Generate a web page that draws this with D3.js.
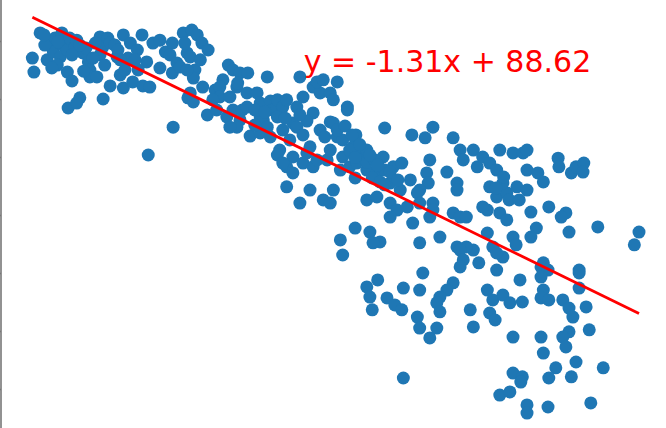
<!DOCTYPE html>
<html lang="en">
<head>
    <meta charset="UTF-8">
    <title>Latitude vs Max Temperature</title>
    <script src="https://d3js.org/d3.v7.min.js"></script>
    <style>
        body {
            margin: 0;
            overflow: hidden;
            background: #fff;
        }
        .dot {
            fill: #1f77b4;
        }
        .fit {
            stroke: red;
            stroke-width: 2.8px;
            fill: none;
        }
        .axis path, .axis line {
            stroke: #777;
            stroke-width: 1.6px;
        }
        .eq {
            font-family: "DejaVu Sans", sans-serif;
            font-size: 30px;
            fill: red;
        }
    </style>
</head>
<body>

<script>
    // [latitude, max temp] pairs
    const latTempA = [
        [1.3, 82.8], [0.3, 74.1], [0.5, 69.3], [2.2, 73.5], [2.6, 79.3], [3.2, 81.0], [3.0, 76.2], [4.1, 82.8],
        [4.2, 78.6], [3.9, 74.5], [4.8, 76.9], [5.1, 81.0], [5.8, 77.9], [4.8, 69.3], [5.4, 66.2], [6.4, 60.4],
        [4.9, 56.9], [6.0, 58.6], [6.0, 80.3], [6.8, 75.9], [7.5, 72.8], [7.7, 70.0], [7.7, 67.6], [7.2, 77.6],
        [9.0, 81.4], [9.3, 77.6], [9.0, 75.2], [10.0, 81.0], [10.3, 79.3], [8.6, 67.6], [10.3, 64.5], [9.4, 60.0],
        [11.2, 74.5], [11.6, 68.3], [12.0, 82.1], [12.9, 79.3], [12.0, 63.8], [13.2, 65.9], [14.4, 82.1], [15.0, 72.8],
        [14.5, 64.5], [15.4, 64.1], [15.8, 79.3], [13.8, 76.9], [16.7, 70.7], [17.4, 76.2], [18.3, 79.3], [18.9, 72.4],
        [18.3, 69.0], [19.7, 82.8], [20.8, 83.8], [21.5, 82.1], [22.1, 79.3], [22.9, 76.9], [20.2, 75.9], [21.2, 70.0],
        [21.0, 67.2], [22.2, 64.1], [20.3, 60.4], [21.0, 59.0], [22.8, 54.5], [23.8, 63.1], [18.4, 50.3], [15.2, 40.7],
        [19.3, 71.0], [20.6, 74.5], [1.9, 78.6], [3.6, 79.7], [5.4, 75.2], [6.4, 78.6], [8.4, 79.3], [10.9, 78.6],
        [12.6, 74.1], [13.9, 70.0], [9.6, 71.7], [8.1, 74.1], [11.3, 76.9], [16.7, 80.3], [18.0, 75.2], [19.9, 79.3],
        [21.9, 73.5], [1.8, 82.1], [3.5, 71.7], [12.2, 70.0], [13.5, 73.5], [11.6, 73.5], [6.9, 69.6], [2.8, 70.7]
    ];

    const latTempB = [
        [25.5, 71.7], [26.1, 70.0], [27.0, 69.0], [28.0, 69.0], [24.8, 66.6], [24.4, 64.1], [26.6, 64.1], [24.4, 60.7],
        [25.7, 60.7], [26.7, 65.5], [27.9, 62.1], [29.2, 62.1], [30.5, 67.6], [34.7, 67.6], [23.5, 59.7], [24.0, 56.2],
        [25.3, 53.8], [26.1, 56.2], [27.3, 56.2], [27.9, 57.2], [27.0, 52.8], [26.6, 50.3], [25.7, 50.3], [28.3, 47.2],
        [29.6, 53.8], [29.6, 58.6], [30.9, 59.3], [31.2, 56.2], [31.8, 59.7], [32.5, 57.2], [33.0, 59.7], [34.3, 57.2],
        [35.1, 60.7], [36.4, 64.1], [37.3, 62.1], [38.6, 62.1], [36.4, 55.2], [35.6, 52.4], [33.8, 51.7], [31.8, 53.8],
        [30.0, 52.8], [30.5, 50.3], [29.6, 48.3], [32.5, 49.3], [34.3, 50.3], [35.1, 47.6], [37.3, 49.3], [30.9, 46.9],
        [33.4, 45.9], [32.1, 42.4], [31.8, 40.7], [33.8, 40.0], [35.6, 41.4], [36.0, 43.5], [33.0, 36.6], [32.5, 37.9],
        [35.1, 37.9], [33.8, 34.5], [36.4, 36.6], [36.9, 39.0], [38.2, 39.0], [33.0, 29.7], [36.0, 28.6], [34.7, 24.1],
        [37.7, 25.2], [37.9, 46.9], [39.5, 46.9], [40.2, 45.9], [36.9, 65.9], [37.7, 66.6], [39.5, 65.9], [39.0, 59.7],
        [40.8, 57.2], [38.6, 52.1], [38.6, 42.4], [41.5, 43.5], [42.8, 41.4], [40.2, 40.0], [39.9, 35.5], [43.3, 35.5],
        [20.2, 70.0], [20.6, 62.1], [28.9, 56.2], [30.2, 55.5], [32.8, 53.4], [34.7, 54.5], [28.9, 51.0]
    ];

    const latTempC = [
        [40.8, 56.2], [39.0, 51.7], [42.8, 39.0], [44.6, 34.5], [41.1, 36.6], [42.0, 37.9], [45.4, 40.0], [46.7, 36.6],
        [47.8, 37.9], [45.6, 50.0], [49.1, 47.6], [50.8, 46.6], [51.8, 50.3], [54.4, 46.6], [55.3, 42.4], [55.7, 39.0],
        [57.0, 42.4], [57.5, 36.6], [58.2, 40.0], [59.1, 37.9], [60.0, 35.5], [60.4, 42.4], [62.1, 41.4], [63.4, 41.4],
        [63.9, 35.5], [51.4, 39.0], [51.0, 34.5], [53.6, 34.8], [54.9, 31.0], [54.9, 28.6], [51.2, 31.0], [50.1, 28.6],
        [48.9, 32.1], [47.6, 28.6], [46.3, 31.0], [39.0, 28.6], [43.3, 25.2], [44.6, 26.2], [46.3, 24.1], [47.2, 21.7],
        [46.3, 19.3], [48.5, 22.8], [49.8, 27.6], [50.1, 24.1], [51.8, 24.1], [49.2, 17.2], [51.4, 19.3], [51.8, 21.7],
        [54.4, 20.7], [55.3, 19.3], [52.7, 12.4], [54.9, 9.0], [50.1, 10.4], [41.8, 15.5], [43.7, 14.1], [45.0, 10.7],
        [39.9, 11.4], [38.6, 24.1], [58.8, 21.7], [60.0, 26.2], [61.3, 27.6], [62.6, 29.7], [63.9, 28.6], [60.8, 31.0],
        [59.1, 29.7], [58.2, 22.8], [60.4, 20.7], [61.3, 18.3], [62.1, 12.4], [63.9, 42.4], [58.8, 13.8], [39.5, 49.3],
        [41.1, 42.4], [43.3, 38.3], [44.0, 32.8], [41.8, 32.8], [45.0, 31.4], [45.6, 35.5], [41.9, 47.6], [43.3, 42.4],
        [44.3, 39.0], [40.5, 50.7], [41.4, 47.6], [42.4, 44.3], [43.7, 40.7], [44.7, 37.2], [46.3, 34.8], [47.3, 32.1],
        [41.8, 39.8], [45.6, 30.4]
    ];

    const latTempD = [
        [60.9, 33.1], [65.3, 34.5], [66.0, 31.4], [61.6, 25.2], [64.4, 21.0], [66.7, 22.8], [67.9, 39.6], [68.0, 36.6],
        [69.6, 34.5], [70.2, 36.6], [71.2, 37.9], [71.1, 34.8], [68.9, 20.7], [68.3, 19.3], [65.1, 15.5], [64.4, 12.4],
        [69.3, 14.1], [73.0, 15.9], [78.3, 14.1], [77.7, 9.7], [62.5, 9.7], [59.5, 9.0], [56.1, 19.3], [57.0, 7.9],
        [60.8, 5.5], [57.7, 3.5], [66.0, 3.5], [70.6, 1.0], [59.9, 29.3], [62.9, 25.2], [56.1, 9.0]
    ];

    const latTempE = [
        [40.2, 6.2], [44.1, 10.4], [55.3, 7.9], [55.7, 4.5], [55.3, 2.1], [60.0, 6.9], [60.0, 1.0], [50.5, 0.0],
        [44.7, -2.4], [43.3, -4.8], [43.7, -8.3], [44.0, -12.7], [45.9, -8.6], [46.9, -11.0], [47.8, -12.7], [48.0, -5.2],
        [50.1, -5.9], [54.4, -3.4], [53.6, -5.9], [52.7, -8.3], [52.3, -10.3], [52.7, -13.4], [49.8, -15.2], [50.1, -19.0],
        [51.4, -22.4], [52.3, -19.0], [56.6, -12.7], [57.0, -18.6], [58.8, -5.9], [59.5, -9.3], [60.8, -7.6], [61.7, -10.3],
        [63.0, -2.4], [63.3, -10.0], [59.1, -13.8], [59.8, -16.2], [62.1, -22.1], [48.0, -36.2], [62.1, -34.5], [63.3, -35.8],
        [60.4, -42.1], [61.7, -41.0], [63.9, -45.5], [63.9, -48.3], [65.7, 2.1], [66.6, 1.0], [65.7, -1.4], [66.0, -5.9],
        [65.7, -8.6], [66.7, -9.3], [68.5, -9.3], [69.3, -12.1], [69.8, -15.2], [70.6, 0.0], [70.6, -5.2], [71.5, -11.7],
        [71.9, -19.6], [69.3, -20.3], [68.5, -22.1], [68.9, -25.5], [65.7, -22.1], [66.0, -27.6], [70.2, -30.7], [67.6, -32.7],
        [66.7, -36.2], [69.6, -35.8], [73.7, -32.7], [63.1, -37.6], [66.6, -46.2], [72.1, -44.8]
    ];

    const points = [...latTempA, ...latTempB, ...latTempC, ...latTempD, ...latTempE];

    // linear fit shown on the chart
    const slope = -1.31;
    const intercept = 88.62;
    const eqLabel = "y = -1.31x + 88.62";
    const eqAt = [35.2, 69.4];

    const yTicks = [80, 60, 40, 20, 0, -20, -40];

    const width = 666;
    const height = 428;

    const svg = d3.select("body")
        .append("svg")
        .attr("width", width)
        .attr("height", height);

    // the picture is cropped inside the axes, so the domains run past the plot edge
    const x = d3.scaleLinear().domain([-3.86, 81.77]).range([0, width]);
    const y = d3.scaleLinear().domain([-53.45, 94.14]).range([height, 0]);

    // left spine with its ticks (labels fall outside the crop)
    svg.append("g")
        .attr("class", "axis")
        .attr("transform", "translate(1,0)")
        .call(d3.axisLeft(y).tickValues(yTicks).tickSize(4).tickSizeOuter(0).tickFormat(""))
        .call(g => g.select(".domain").attr("d", `M0,0V${height}`));

    svg.append("g")
        .selectAll("circle")
        .data(points)
        .enter()
        .append("circle")
        .attr("class", "dot")
        .attr("cx", d => x(d[0]))
        .attr("cy", d => y(d[1]))
        .attr("r", 6.5);

    const [lo, hi] = d3.extent(points, d => d[0]);
    const fitLine = d3.line()
        .x(d => x(d))
        .y(d => y(slope * d + intercept));

    svg.append("path")
        .datum([lo, hi])
        .attr("class", "fit")
        .attr("d", fitLine);

    svg.append("text")
        .attr("class", "eq")
        .attr("x", x(eqAt[0]))
        .attr("y", y(eqAt[1]))
        .text(eqLabel);
</script>

</body>
</html>
